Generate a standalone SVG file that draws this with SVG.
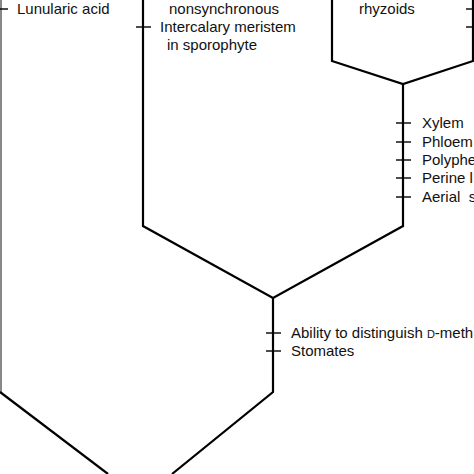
<svg xmlns="http://www.w3.org/2000/svg" width="474" height="474" viewBox="0 0 474 474">
<style>
.br{fill:none;stroke:#000;stroke-width:2.2;stroke-linejoin:miter}
.tk{stroke:#000;stroke-width:1.4}
text{font-family:"Liberation Sans",Arial,sans-serif;font-size:15px;fill:#111}
</style>
<rect width="474" height="474" fill="#fff"/>
<g id="connectors">
<line x1="1" y1="0" x2="1" y2="392" stroke="#888" stroke-width="2"/>
<polyline class="br" points="0,392 108,474"/>
<polyline class="br" points="143,0 143,226 273,298 403,226 403,84"/>
<polyline class="br" points="332,0 332,61 403,84 473,61 473,0"/>
<polyline class="br" points="273,298 273,392 172,474"/>
</g>
<g id="node-left">
<line class="tk" x1="0" y1="9" x2="8" y2="9"/>
<text x="17" y="14">Lunularic acid</text>
</g>
<g id="node-mid">
<line class="tk" x1="136" y1="27" x2="151" y2="27"/>
<text x="169" y="14">nonsynchronous</text>
<text x="160" y="32">Intercalary meristem</text>
<text x="167" y="50">in sporophyte</text>
</g>
<g id="node-rhyzoids">
<text x="359" y="14">rhyzoids</text>
<line class="tk" x1="466" y1="9" x2="474" y2="9"/>
<line class="tk" x1="466" y1="27" x2="474" y2="27"/>
</g>
<g id="node-vascular">
<line class="tk" x1="396" y1="123" x2="411" y2="123"/>
<line class="tk" x1="396" y1="142" x2="411" y2="142"/>
<line class="tk" x1="396" y1="160" x2="411" y2="160"/>
<line class="tk" x1="396" y1="178" x2="411" y2="178"/>
<line class="tk" x1="396" y1="197" x2="411" y2="197"/>
<text x="422" y="128">Xylem</text>
<text x="422" y="147">Phloem</text>
<text x="422" y="165">Polyphe</text>
<text x="422" y="183">Perine l</text>
<text x="422" y="202" xml:space="preserve">Aerial  s</text>
</g>
<g id="node-stomates">
<line class="tk" x1="266" y1="333" x2="281" y2="333"/>
<line class="tk" x1="266" y1="351" x2="281" y2="351"/>
<text x="291" y="338">Ability to distinguish <tspan font-size="11">D</tspan>-meth</text>
<text x="291" y="356">Stomates</text>
</g>
</svg>
